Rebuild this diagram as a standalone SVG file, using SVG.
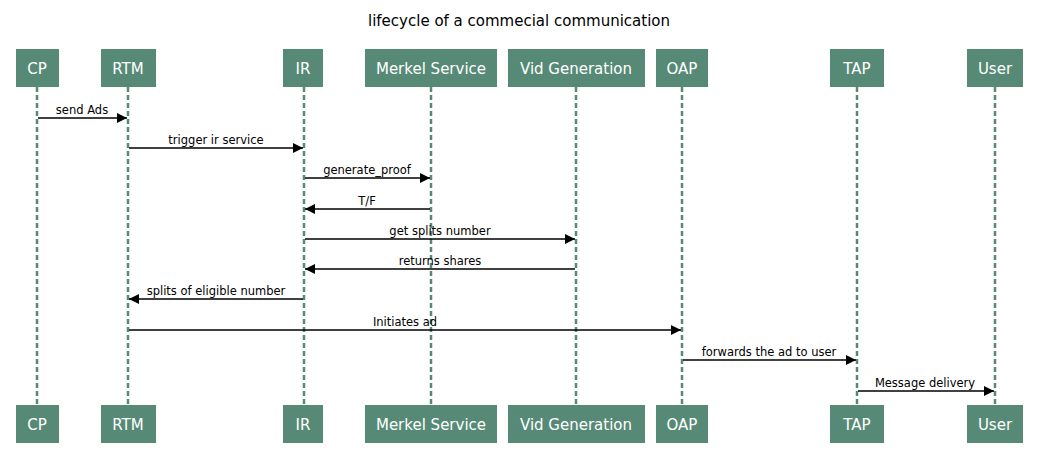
<svg xmlns="http://www.w3.org/2000/svg" width="1038" height="467" viewBox="0 0 1038 467">
<style>
.box{fill:#578a76}
.bt{fill:#fff;font-family:"DejaVu Sans",sans-serif;font-size:15px;text-anchor:middle}
.ll{stroke:#578a76;stroke-width:2.5;stroke-dasharray:5 3}
.m{stroke:#000;stroke-width:1.5;fill:none}
.ml{font-family:"DejaVu Sans",sans-serif;font-size:11.5px;text-anchor:middle;fill:#000}
</style>
<defs><marker id="a" markerWidth="10" markerHeight="10" refX="10" refY="5" orient="auto" markerUnits="userSpaceOnUse"><path d="M0,0L10,5L0,10z" fill="#000"/></marker></defs>
<rect width="1038" height="467" fill="#fff"/>
<text x="519" y="26" font-family="DejaVu Sans,sans-serif" font-size="15" text-anchor="middle">lifecycle of a commecial communication</text>
<g id="lifelines">
<line class="ll" x1="37" y1="87" x2="37" y2="405"/><line class="ll" x1="128" y1="87" x2="128" y2="405"/><line class="ll" x1="304" y1="87" x2="304" y2="405"/><line class="ll" x1="431" y1="87" x2="431" y2="405"/><line class="ll" x1="576" y1="87" x2="576" y2="405"/><line class="ll" x1="682" y1="87" x2="682" y2="405"/><line class="ll" x1="857" y1="87" x2="857" y2="405"/><line class="ll" x1="995" y1="87" x2="995" y2="405"/>
</g>
<g id="CP"><rect class="box" x="16" y="49" width="43" height="38"/><text class="bt" x="37" y="74">CP</text><rect class="box" x="16" y="405" width="43" height="38"/><text class="bt" x="37" y="430">CP</text></g>
<g id="RTM"><rect class="box" x="101" y="49" width="55" height="38"/><text class="bt" x="128" y="74">RTM</text><rect class="box" x="101" y="405" width="55" height="38"/><text class="bt" x="128" y="430">RTM</text></g>
<g id="IR"><rect class="box" x="283" y="49" width="40" height="38"/><text class="bt" x="303" y="74">IR</text><rect class="box" x="283" y="405" width="40" height="38"/><text class="bt" x="303" y="430">IR</text></g>
<g id="Merkel"><rect class="box" x="365" y="49" width="132" height="38"/><text class="bt" x="431" y="74">Merkel Service</text><rect class="box" x="365" y="405" width="132" height="38"/><text class="bt" x="431" y="430">Merkel Service</text></g>
<g id="Vid"><rect class="box" x="508" y="49" width="137" height="38"/><text class="bt" x="576" y="74">Vid Generation</text><rect class="box" x="508" y="405" width="137" height="38"/><text class="bt" x="576" y="430">Vid Generation</text></g>
<g id="OAP"><rect class="box" x="656" y="49" width="52" height="38"/><text class="bt" x="682" y="74">OAP</text><rect class="box" x="656" y="405" width="52" height="38"/><text class="bt" x="682" y="430">OAP</text></g>
<g id="TAP"><rect class="box" x="830" y="49" width="54" height="38"/><text class="bt" x="857" y="74">TAP</text><rect class="box" x="830" y="405" width="54" height="38"/><text class="bt" x="857" y="430">TAP</text></g>
<g id="User"><rect class="box" x="967" y="49" width="56" height="38"/><text class="bt" x="995" y="74">User</text><rect class="box" x="967" y="405" width="56" height="38"/><text class="bt" x="995" y="430">User</text></g>
<g id="connectors">
<line class="m" x1="38" y1="118" x2="127" y2="118" marker-end="url(#a)"/><text class="ml" x="82" y="114">send Ads</text>
<line class="m" x1="129" y1="148" x2="303" y2="148" marker-end="url(#a)"/><text class="ml" x="216" y="144">trigger ir service</text>
<line class="m" x1="305" y1="178" x2="430" y2="178" marker-end="url(#a)"/><text class="ml" x="367" y="174">generate_proof</text>
<line class="m" x1="430" y1="209" x2="305" y2="209" marker-end="url(#a)"/><text class="ml" x="367" y="205">T/F</text>
<line class="m" x1="305" y1="239" x2="575" y2="239" marker-end="url(#a)"/><text class="ml" x="440" y="235">get splits number</text>
<line class="m" x1="575" y1="269" x2="305" y2="269" marker-end="url(#a)"/><text class="ml" x="440" y="265">returns shares</text>
<line class="m" x1="303" y1="299" x2="129" y2="299" marker-end="url(#a)"/><text class="ml" x="216" y="295">splits of eligible number</text>
<line class="m" x1="129" y1="330" x2="681" y2="330" marker-end="url(#a)"/><text class="ml" x="405" y="326">Initiates ad</text>
<line class="m" x1="683" y1="360" x2="856" y2="360" marker-end="url(#a)"/><text class="ml" x="769" y="356">forwards the ad to user</text>
<line class="m" x1="858" y1="391" x2="994" y2="391" marker-end="url(#a)"/><text class="ml" x="925" y="387">Message delivery</text>
</g>
</svg>
